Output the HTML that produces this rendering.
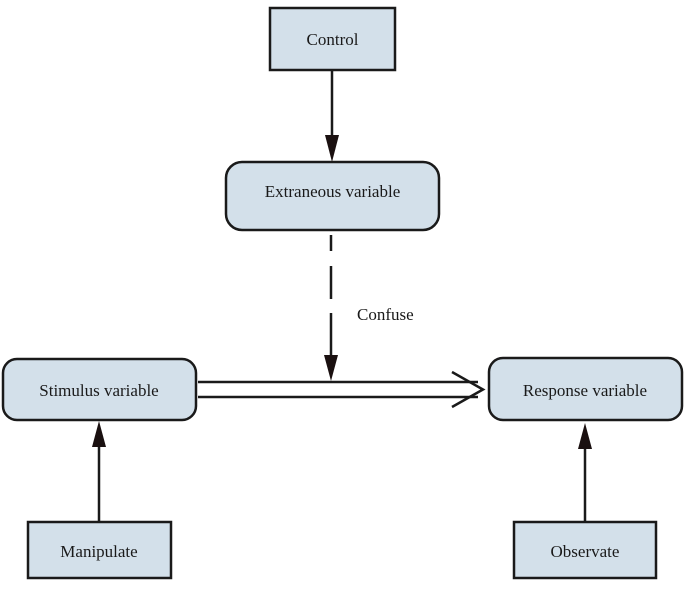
<!DOCTYPE html>
<html><head><meta charset="utf-8"><style>
html,body{margin:0;padding:0;background:#fff;}
svg text{font-family:"Liberation Serif",serif;font-size:17px;fill:#1a1a1a;}
</style></head><body>
<svg width="685" height="588" viewBox="0 0 685 588" xmlns="http://www.w3.org/2000/svg">
<g fill="#d3e0ea" stroke="#1a1a1a" stroke-width="2.5">
<rect x="270" y="8" width="125" height="62"/>
<rect x="226" y="162" width="213" height="68" rx="16"/>
<rect x="3" y="359" width="193" height="61" rx="14"/>
<rect x="489" y="358" width="193" height="62" rx="14"/>
<rect x="28" y="522" width="143" height="56"/>
<rect x="514" y="522" width="142" height="56"/>
</g>
<g stroke="#1a1a1a" stroke-width="2.5" fill="none">
<line x1="332" y1="70" x2="332" y2="140"/>
<line x1="331" y1="235" x2="331" y2="251"/>
<line x1="331" y1="266" x2="331" y2="299"/>
<line x1="331" y1="313" x2="331" y2="358"/>
<line x1="198" y1="382" x2="478" y2="382"/>
<line x1="198" y1="397" x2="478" y2="397"/>
<polyline points="452,372 483,389.5 452,407"/>
<line x1="99" y1="522" x2="99" y2="442"/>
<line x1="585" y1="522" x2="585" y2="444"/>
</g>
<g fill="#1a1010">
<polygon points="325,135 339,135 332,162"/>
<polygon points="324,355 338,355 331,381"/>
<polygon points="92,447 106,447 99,421"/>
<polygon points="578,449 592,449 585,423"/>
</g>
<text x="332.5" y="45" text-anchor="middle">Control</text>
<text x="332.5" y="197" text-anchor="middle">Extraneous variable</text>
<text x="99" y="396" text-anchor="middle">Stimulus variable</text>
<text x="585" y="396" text-anchor="middle">Response variable</text>
<text x="99" y="557" text-anchor="middle">Manipulate</text>
<text x="585" y="557" text-anchor="middle">Observate</text>
<text x="357" y="320">Confuse</text>
</svg>
</body></html>
